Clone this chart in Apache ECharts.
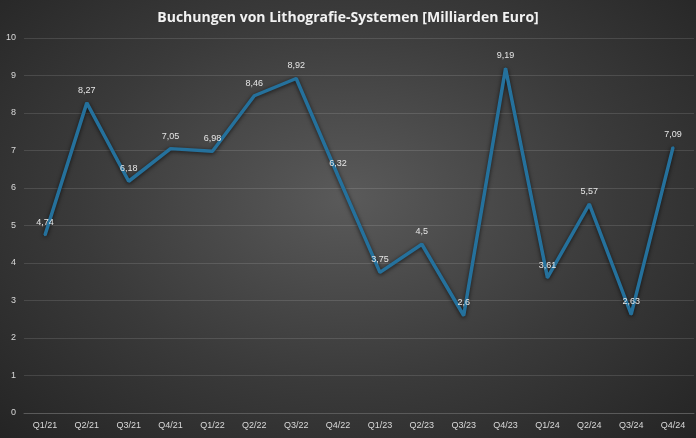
<!DOCTYPE html>
<html><head><meta charset="utf-8">
<script src="https://cdn.jsdelivr.net/npm/echarts@6/dist/echarts.min.js"></script>
<style>html,body{margin:0;padding:0}#c{width:696px;height:438px;background:radial-gradient(ellipse at 50% 45%,#5a5a5a 0%,#3a3a3a 55%,#242424 100%)}</style>
</head><body><div id="c"></div>
<script>
const categories=["Q1/21","Q2/21","Q3/21","Q4/21","Q1/22","Q2/22","Q3/22","Q4/22","Q1/23","Q2/23","Q3/23","Q4/23","Q1/24","Q2/24","Q3/24","Q4/24"];
const values=[4.74,8.27,6.18,7.05,6.98,8.46,8.92,6.32,3.75,4.5,2.6,9.19,3.61,5.57,2.63,7.09];
const chart=echarts.init(document.getElementById('c'));
chart.setOption({
 animation:false,
 title:{text:'Buchungen von Lithografie-Systemen [Milliarden Euro]',left:'center',top:6,textStyle:{color:'#f2f2f2',fontSize:14,fontWeight:'bold',fontFamily:'Open Sans'}},
 grid:{left:24,right:2,top:38,bottom:25},
 xAxis:{type:'category',data:categories,axisLine:{lineStyle:{color:'#5a5a5a'}},axisTick:{show:false},axisLabel:{color:'#d9d9d9',fontSize:9,margin:8}},
 yAxis:{type:'value',min:0,max:10,interval:1,axisLabel:{color:'#d9d9d9',fontSize:9,margin:8},splitLine:{lineStyle:{color:'rgba(255,255,255,0.12)'}}},
 series:[{type:'line',data:values,symbol:'circle',symbolSize:2,showSymbol:true,itemStyle:{color:'#25719c'},
  lineStyle:{color:'#25719c',width:3.5,shadowColor:'rgba(0,0,0,0.7)',shadowBlur:4,shadowOffsetY:1},
  label:{show:true,position:'top',color:'#e6e6e6',fontSize:9,distance:7,formatter:p=>String(p.value).replace('.',',')},
  labelLayout:{hideOverlap:false}}]
});
</script></body></html>
